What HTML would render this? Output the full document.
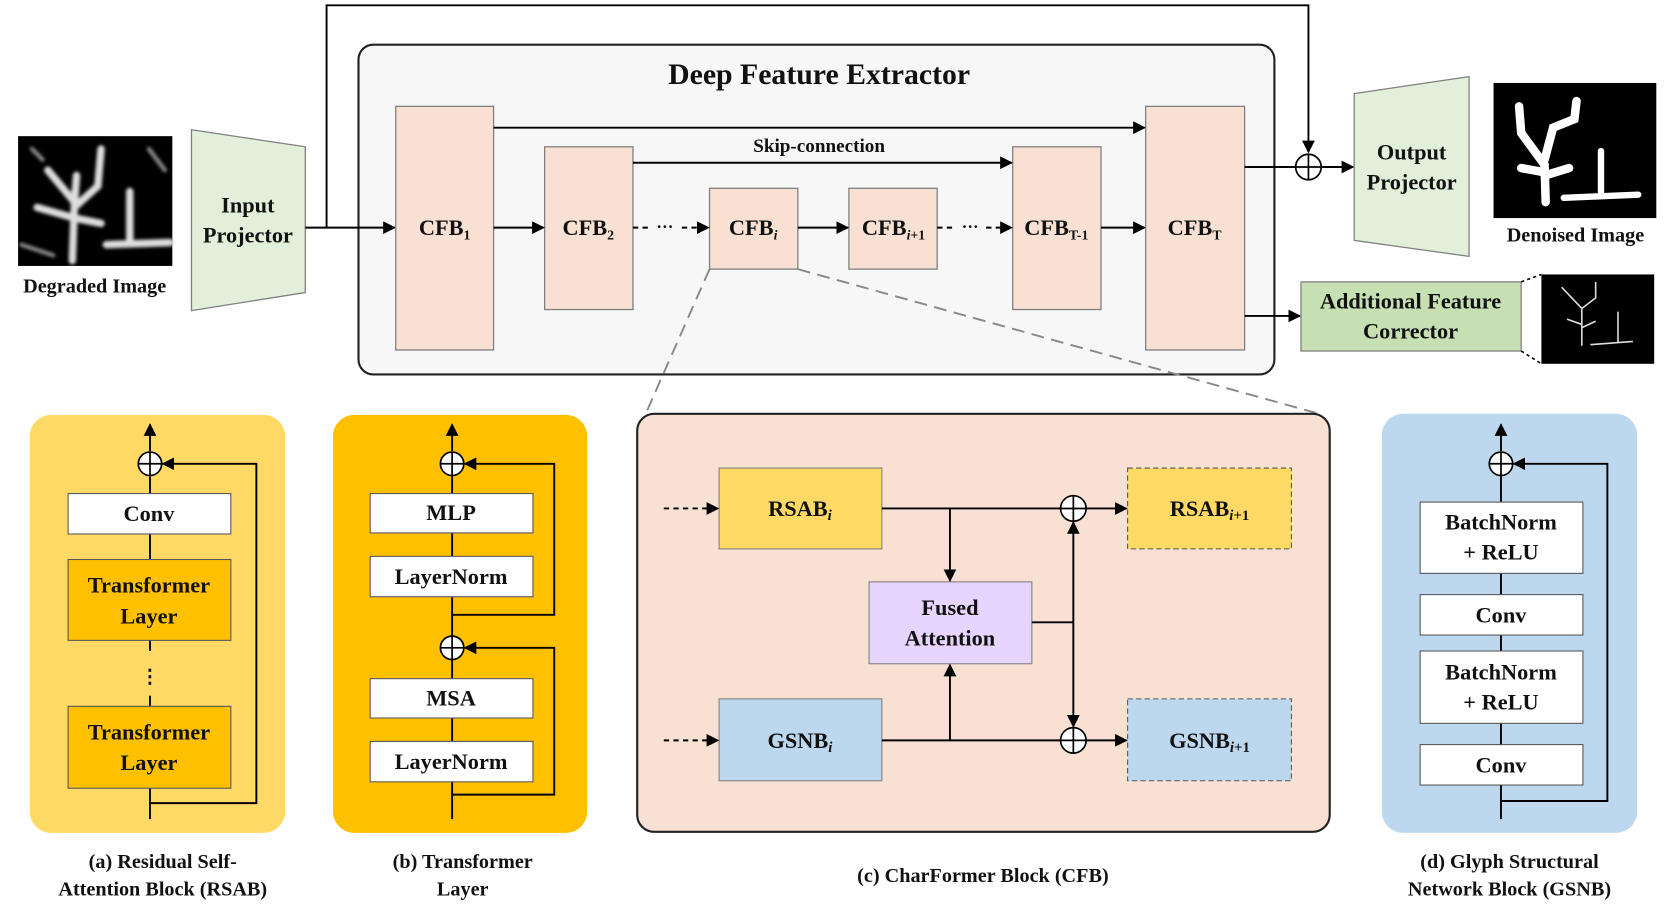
<!DOCTYPE html>
<html><head><meta charset="utf-8"><style>
html,body{margin:0;padding:0;background:#fff;}
svg{display:block;}
text{font-family:"Liberation Serif",serif;font-weight:bold;fill:#111;}
</style></head><body>
<svg width="1668" height="918" viewBox="0 0 1568 863" preserveAspectRatio="none" xmlns="http://www.w3.org/2000/svg">
<defs>
<marker id="ab" viewBox="0 0 10 10" refX="9" refY="5" markerWidth="12" markerHeight="12" orient="auto-start-reverse" markerUnits="userSpaceOnUse"><path d="M0,0 L10,5 L0,10 z" fill="#000"/></marker>
<filter id="bl"><feGaussianBlur stdDeviation="1.5"/></filter>
</defs>

<!-- degraded image -->
<rect x="17" y="128" width="145" height="122" fill="#000"/>
<g stroke="#ddd" stroke-linecap="round" fill="none" filter="url(#bl)">
<path d="M68,245 L70,190 L45,160 M70,190 L72,165 M70,195 L92,175 L95,140 M70,205 L35,195 M70,205 L95,210 M100,230 L160,228 M122,225 L122,180" stroke-width="7"/>
<path d="M30,140 L40,150 M140,140 L155,160 M20,230 L50,240" stroke-width="4" stroke="#888"/>
</g>
<text x="89" y="275" font-size="19" text-anchor="middle">Degraded Image</text>

<!-- input projector -->
<polygon points="180,122 287,138 287,275 180,292" fill="#e2efda" stroke="#7f7f7f" stroke-width="1.2"/>
<text x="233" y="200" font-size="21" text-anchor="middle">Input</text>
<text x="233" y="228" font-size="21" text-anchor="middle">Projector</text>

<!-- deep feature extractor -->
<rect x="337" y="42" width="861" height="310" rx="14" fill="#f7f7f7" stroke="#222" stroke-width="2"/>
<text x="770" y="79" font-size="28" text-anchor="middle">Deep Feature Extractor</text>

<!-- top loop + input arrow -->
<polyline points="307,214 307,5 1230,5 1230,143" fill="none" stroke="#000" stroke-width="1.8" marker-end="url(#ab)"/>
<line x1="287" y1="214" x2="371" y2="214" stroke="#000" stroke-width="1.8" marker-end="url(#ab)"/>

<g fill="#f8e0d3" stroke="#7f7f7f" stroke-width="1.2">
<rect x="372" y="100" width="92" height="229"/>
<rect x="512" y="138" width="83" height="153"/>
<rect x="667" y="177" width="83" height="76"/>
<rect x="798" y="177" width="83" height="76"/>
<rect x="952" y="138" width="83" height="153"/>
<rect x="1077" y="100" width="93" height="229"/>
</g>
<g font-size="21" text-anchor="middle">
<text x="418" y="221">CFB<tspan font-size="13" dy="4">1</tspan></text>
<text x="553" y="221">CFB<tspan font-size="13" dy="4">2</tspan></text>
<text x="708" y="221">CFB<tspan font-size="13" dy="4" font-style="italic">i</tspan></text>
<text x="840" y="221">CFB<tspan font-size="13" dy="4" font-style="italic">i</tspan><tspan font-size="13">+1</tspan></text>
<text x="993" y="221">CFB<tspan font-size="13" dy="4">T-1</tspan></text>
<text x="1123" y="221">CFB<tspan font-size="13" dy="4">T</tspan></text>
</g>
<g stroke="#000" stroke-width="1.8" fill="none">
<line x1="464" y1="214" x2="511" y2="214" marker-end="url(#ab)"/>
<line x1="595" y1="214" x2="610" y2="214" stroke-dasharray="5,4"/>
<line x1="641" y1="214" x2="666" y2="214" stroke-dasharray="5,4" marker-end="url(#ab)"/>
<line x1="750" y1="214" x2="797" y2="214" marker-end="url(#ab)"/>
<line x1="881" y1="214" x2="897" y2="214" stroke-dasharray="5,4"/>
<line x1="927" y1="214" x2="951" y2="214" stroke-dasharray="5,4" marker-end="url(#ab)"/>
<line x1="1035" y1="214" x2="1076" y2="214" marker-end="url(#ab)"/>
<line x1="464" y1="120" x2="1076" y2="120" marker-end="url(#ab)"/>
<line x1="595" y1="153" x2="951" y2="153" marker-end="url(#ab)"/>
<line x1="1170" y1="157" x2="1218" y2="157"/>
<line x1="1242" y1="157" x2="1272" y2="157" marker-end="url(#ab)"/>
<line x1="1170" y1="297" x2="1222" y2="297" marker-end="url(#ab)"/>
</g>
<text x="625" y="218" font-size="16" text-anchor="middle">···</text>
<text x="912" y="218" font-size="16" text-anchor="middle">···</text>
<text x="770" y="143" font-size="18" text-anchor="middle">Skip-connection</text>
<g stroke="#000" stroke-width="1.6" fill="#fff"><circle cx="1230" cy="157" r="12"/><line x1="1218" y1="157" x2="1242" y2="157"/><line x1="1230" y1="145" x2="1230" y2="169"/></g>

<!-- output projector -->
<polygon points="1273,88 1381,72 1381,241 1273,226" fill="#e2efda" stroke="#7f7f7f" stroke-width="1.2"/>
<text x="1327" y="150" font-size="21" text-anchor="middle">Output</text>
<text x="1327" y="178" font-size="21" text-anchor="middle">Projector</text>

<!-- denoised image -->
<rect x="1404" y="78" width="153" height="127" fill="#000"/>
<g stroke="#fff" stroke-linecap="round" fill="none">
<path d="M1453,190 L1452,155 L1430,125 L1428,100 M1452,150 L1460,120 L1480,112 L1482,95 M1452,162 L1430,158 M1452,165 L1475,158" stroke-width="8"/>
<path d="M1470,186 L1540,183 M1505,184 L1505,142" stroke-width="6"/>
</g>
<text x="1481" y="227" font-size="19" text-anchor="middle">Denoised Image</text>

<!-- additional feature corrector -->
<rect x="1223" y="265" width="207" height="65" fill="#c6e0b4" stroke="#7f7f7f" stroke-width="1.2"/>
<text x="1326" y="290" font-size="21" text-anchor="middle">Additional Feature</text>
<text x="1326" y="318" font-size="21" text-anchor="middle">Corrector</text>
<rect x="1449" y="258" width="106" height="84" fill="#000"/>
<g stroke="#ddd" stroke-width="1.5" fill="none">
<path d="M1487,325 L1487,290 L1468,270 M1487,290 L1500,280 L1500,265 M1487,305 L1473,300 M1487,308 L1500,302 M1495,324 L1535,321 M1521,322 L1521,293"/>
</g>
<g stroke="#000" stroke-width="1.5" stroke-dasharray="3,3"><line x1="1430" y1="265" x2="1449" y2="258"/><line x1="1430" y1="330" x2="1449" y2="342"/></g>

<!-- zoom dashed lines -->
<g stroke="#888" stroke-width="1.8" stroke-dasharray="12,7"><line x1="667" y1="253" x2="607" y2="389"/><line x1="750" y1="253" x2="1240" y2="389"/></g>

<!-- panel a -->
<rect x="28" y="390" width="240" height="393" rx="20" fill="#ffd966"/>
<g stroke="#000" stroke-width="1.8" fill="none">
<line x1="141" y1="770" x2="141" y2="448"/>
<line x1="141" y1="424" x2="141" y2="399" marker-end="url(#ab)"/>
<polyline points="141,755 241,755 241,436 153,436" marker-end="url(#ab)"/>
</g>
<rect x="64" y="464" width="153" height="38" fill="#fff" stroke="#555"/>
<rect x="64" y="526" width="153" height="76" fill="#ffc000" stroke="#555"/>
<rect x="64" y="664" width="153" height="77" fill="#ffc000" stroke="#555"/>
<rect x="135" y="612" width="12" height="42" fill="#ffd966"/>
<text x="141" y="642" font-size="18" text-anchor="middle">⋮</text>
<g stroke="#000" stroke-width="1.6" fill="#fff"><circle cx="141" cy="436" r="11"/><line x1="130" y1="436" x2="152" y2="436"/><line x1="141" y1="425" x2="141" y2="447"/></g>
<g font-size="21" text-anchor="middle">
<text x="140" y="490">Conv</text>
<text x="140" y="557">Transformer</text><text x="140" y="586">Layer</text>
<text x="140" y="695">Transformer</text><text x="140" y="724">Layer</text>
</g>
<text x="153" y="816" font-size="19" text-anchor="middle">(a) Residual Self-</text>
<text x="153" y="842" font-size="19" text-anchor="middle">Attention Block (RSAB)</text>

<!-- panel b -->
<rect x="313" y="390" width="239" height="393" rx="20" fill="#ffc000"/>
<g stroke="#000" stroke-width="1.8" fill="none">
<line x1="425" y1="770" x2="425" y2="448"/>
<line x1="425" y1="424" x2="425" y2="399" marker-end="url(#ab)"/>
<polyline points="425,578 521,578 521,436 437,436" marker-end="url(#ab)"/>
<polyline points="425,747 521,747 521,609 437,609" marker-end="url(#ab)"/>
</g>
<g fill="#fff" stroke="#555">
<rect x="348" y="464" width="153" height="37"/><rect x="348" y="523" width="153" height="38"/>
<rect x="348" y="638" width="153" height="37"/><rect x="348" y="697" width="153" height="38"/>
</g>
<g stroke="#000" stroke-width="1.6" fill="#fff">
<circle cx="425" cy="436" r="11"/><line x1="414" y1="436" x2="436" y2="436"/><line x1="425" y1="425" x2="425" y2="447"/>
<circle cx="425" cy="609" r="11"/><line x1="414" y1="609" x2="436" y2="609"/><line x1="425" y1="598" x2="425" y2="620"/>
</g>
<g font-size="21" text-anchor="middle">
<text x="424" y="489">MLP</text><text x="424" y="549">LayerNorm</text>
<text x="424" y="663">MSA</text><text x="424" y="723">LayerNorm</text>
</g>
<text x="435" y="816" font-size="19" text-anchor="middle">(b) Transformer</text>
<text x="435" y="842" font-size="19" text-anchor="middle">Layer</text>

<!-- panel c -->
<rect x="599" y="389" width="651" height="393" rx="16" fill="#f8e0d3" stroke="#222" stroke-width="2"/>
<rect x="676" y="440" width="153" height="76" fill="#ffd966" stroke="#7f7f7f"/>
<rect x="676" y="657" width="153" height="77" fill="#bdd7ee" stroke="#7f7f7f"/>
<rect x="817" y="547" width="153" height="77" fill="#e8d5ff" stroke="#7f7f7f"/>
<rect x="1060" y="440" width="154" height="76" fill="#ffd966" stroke="#555" stroke-dasharray="5,3"/>
<rect x="1060" y="657" width="154" height="77" fill="#bdd7ee" stroke="#555" stroke-dasharray="5,3"/>
<g stroke="#000" stroke-width="1.8" fill="none">
<line x1="624" y1="478" x2="675" y2="478" stroke-dasharray="5,4" marker-end="url(#ab)"/>
<line x1="624" y1="696" x2="675" y2="696" stroke-dasharray="5,4" marker-end="url(#ab)"/>
<line x1="829" y1="478" x2="997" y2="478"/>
<line x1="829" y1="696" x2="997" y2="696"/>
<line x1="1021" y1="478" x2="1059" y2="478" marker-end="url(#ab)"/>
<line x1="1021" y1="696" x2="1059" y2="696" marker-end="url(#ab)"/>
<line x1="893" y1="478" x2="893" y2="546" marker-end="url(#ab)"/>
<line x1="893" y1="696" x2="893" y2="625" marker-end="url(#ab)"/>
<line x1="970" y1="585" x2="1009" y2="585"/>
<line x1="1009" y1="585" x2="1009" y2="491" marker-end="url(#ab)"/>
<line x1="1009" y1="585" x2="1009" y2="683" marker-end="url(#ab)"/>
</g>
<g stroke="#000" stroke-width="1.6" fill="#fff">
<circle cx="1009" cy="478" r="12"/><line x1="997" y1="478" x2="1021" y2="478"/><line x1="1009" y1="466" x2="1009" y2="490"/>
<circle cx="1009" cy="696" r="12"/><line x1="997" y1="696" x2="1021" y2="696"/><line x1="1009" y1="684" x2="1009" y2="708"/>
</g>
<g font-size="21" text-anchor="middle">
<text x="752" y="485">RSAB<tspan font-size="14" dy="4" font-style="italic">i</tspan></text>
<text x="752" y="703">GSNB<tspan font-size="14" dy="4" font-style="italic">i</tspan></text>
<text x="1137" y="485">RSAB<tspan font-size="14" dy="4" font-style="italic">i</tspan><tspan font-size="14">+1</tspan></text>
<text x="1137" y="703">GSNB<tspan font-size="14" dy="4" font-style="italic">i</tspan><tspan font-size="14">+1</tspan></text>
<text x="893" y="578">Fused</text><text x="893" y="607">Attention</text>
</g>
<text x="924" y="829" font-size="19" text-anchor="middle">(c) CharFormer Block (CFB)</text>

<!-- panel d -->
<rect x="1299" y="389" width="240" height="394" rx="20" fill="#bdd7ee"/>
<g stroke="#000" stroke-width="1.8" fill="none">
<line x1="1411" y1="770" x2="1411" y2="448"/>
<line x1="1411" y1="424" x2="1411" y2="399" marker-end="url(#ab)"/>
<polyline points="1411,753 1511,753 1511,436 1423,436" marker-end="url(#ab)"/>
</g>
<g fill="#fff" stroke="#555">
<rect x="1335" y="472" width="153" height="67"/><rect x="1335" y="559" width="153" height="38"/>
<rect x="1335" y="612" width="153" height="68"/><rect x="1335" y="700" width="153" height="38"/>
</g>
<g stroke="#000" stroke-width="1.6" fill="#fff"><circle cx="1411" cy="436" r="11"/><line x1="1400" y1="436" x2="1422" y2="436"/><line x1="1411" y1="425" x2="1411" y2="447"/></g>
<g font-size="21" text-anchor="middle">
<text x="1411" y="498">BatchNorm</text><text x="1411" y="526">+ ReLU</text>
<text x="1411" y="585">Conv</text>
<text x="1411" y="639">BatchNorm</text><text x="1411" y="667">+ ReLU</text>
<text x="1411" y="726">Conv</text>
</g>
<text x="1419" y="816" font-size="19" text-anchor="middle">(d) Glyph Structural</text>
<text x="1419" y="842" font-size="19" text-anchor="middle">Network Block (GSNB)</text>
</svg>
</body></html>
